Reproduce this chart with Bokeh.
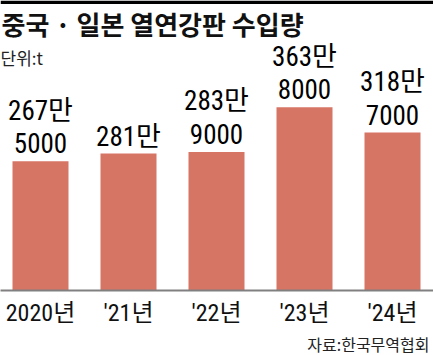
from bokeh.plotting import figure
from bokeh.models import ColumnDataSource, Range1d, FixedTicker, Label, Title, BoxAnnotation
from bokeh.core.properties import value
from bokeh.embed import file_html
from bokeh.resources import INLINE

# ---- data ----
categories = ["2020년", "'21년", "'22년", "'23년", "'24년"]
imports_t = [2675000, 2810000, 2839000, 3638000, 3187000]
value_labels = ["267만\n5000", "281만", "283만\n9000", "363만\n8000", "318만\n7000"]
title_text = "중국 · 일본 열연강판 수입량"
unit_text = "단위:t"
source_text = "자료:한국무역협회"

# ---- layout constants ----
W, H = 433, 355
FRAME_BOTTOM = 296          # pixel row of the baseline
Y0 = 363000                 # value at baseline
PX_PER_UNIT = 57.1e-6       # pixels per ton
X_START = -40 / 88
X_END = X_START + W / 88
Y_END = Y0 + FRAME_BOTTOM / PX_PER_UNIT


def ydata(py):
    return Y0 + (FRAME_BOTTOM - py) / PX_PER_UNIT


def xdata(px):
    return X_START + px / 88


NUM_FONT = "'Roboto Condensed', 'Noto Sans CJK KR', sans-serif"
KR_FONT = "'Noto Sans CJK KR', sans-serif"

xs = list(range(len(categories)))
src = ColumnDataSource(dict(x=xs, top=imports_t, label=value_labels))

p = figure(width=W, height=H, output_backend="svg", toolbar_location=None,
           x_range=Range1d(X_START, X_END), y_range=Range1d(Y0, Y_END),
           min_border_top=0, min_border_left=0, min_border_right=0,
           min_border_bottom=H - FRAME_BOTTOM, y_axis_location=None,
           title=None)
p.outline_line_color = None
p.grid.visible = False
p.background_fill_color = "white"
p.border_fill_color = "white"

p.vbar(x="x", top="top", bottom=Y0, width=56 / 88, source=src,
       fill_color="#D77565", line_color=None)

p.text(x="x", y="top", text="label", source=src, text_align="center",
       text_baseline="bottom", y_offset=-1, text_font=value(NUM_FONT),
       text_font_size="27px", text_color="#000000", text_line_height=1.05)

ax = p.xaxis[0]
ax.ticker = FixedTicker(ticks=xs)
ax.major_label_overrides = {i: c for i, c in zip(xs, categories)}
ax.major_tick_line_color = None
ax.minor_tick_line_color = None
ax.axis_line_color = "#808080"
ax.axis_line_width = 2
ax.major_label_text_font = NUM_FONT
ax.major_label_text_font_size = "24px"
ax.major_label_text_color = "#111111"
ax.major_label_standoff = 2

# black rule along the top edge
p.add_layout(BoxAnnotation(top=ydata(0), bottom=ydata(3.5), fill_color="black",
                           fill_alpha=1.0, line_color=None, level="overlay"))

p.add_layout(Title(text=source_text, align="right", text_font=KR_FONT,
                   text_font_size="16px", text_font_style="normal",
                   text_color="#222222", offset=4, standoff=0), "below")

p.add_layout(Label(x=xdata(1), y=ydata(5), text=title_text, text_align="left",
                   text_baseline="top", text_font=KR_FONT, text_font_size="26px",
                   text_font_style="bold", text_color="#111111"))
p.add_layout(Label(x=xdata(0), y=ydata(45), text=unit_text, text_align="left",
                   text_baseline="top", text_font=KR_FONT, text_font_size="17px",
                   text_color="#222222"))

open("out.html", "w").write(file_html(p, INLINE))
